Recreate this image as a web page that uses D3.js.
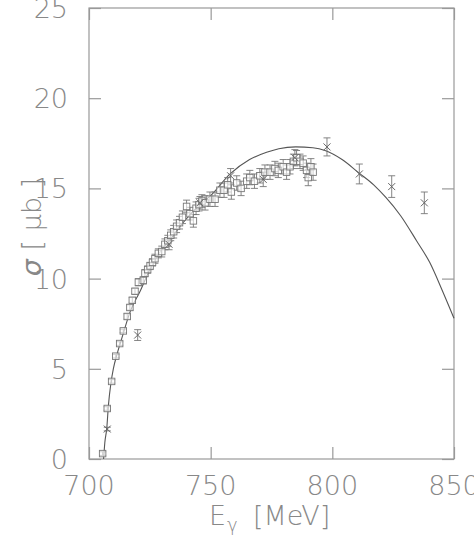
<!DOCTYPE html>
<html>
<head>
<meta charset="utf-8">
<style>
body { margin: 0; background: #fff; }
.lbl { font-family: "DejaVu Sans"; font-weight: 200; fill: #888; }
</style>
</head>
<body>
<div id="chart"></div>
<script src="https://d3js.org/d3.v7.min.js"></script>
<script>
// squares: energy, cross section, error
var sqE = [705.6,707.5,709.3,711.0,712.6,714.1,715.7,716.8,717.8,718.9,720.3,722.3,723.0,724.1,725.1,726.1,727.1,728.5,729.9,731.2,
  732.4,733.6,734.8,736.0,737.2,738.4,740.1,741.5,742.9,744.0,745.2,746.4,747.7,749.7,751.8,753.8,755.5,757.0,758.5,760.7,
  762.5,764.8,766.1,768.0,770.2,772.3,774.4,776.4,777.8,779.8,781.2,782.6,784.0,785.3,786.7,788.0,789.4,790.1,791.2,792.1];
var sqS = [0.3,2.8,4.3,5.7,6.4,7.1,7.9,8.4,8.8,9.3,9.8,9.9,10.3,10.5,10.7,10.9,11.1,11.4,11.5,11.9,
  12.1,12.4,12.6,12.9,13.1,13.4,14.0,13.6,13.2,13.9,14.1,14.3,14.2,14.4,14.4,14.9,14.9,15.2,14.8,15.3,
  15.0,15.4,15.6,15.4,15.7,15.9,15.9,16.1,16.0,16.2,15.9,16.2,16.5,16.7,16.5,16.4,16.0,15.6,16.2,15.9];
var sqErr = [0.1,0.1,0.1,0.1,0.1,0.1,0.15,0.15,0.15,0.15,0.2,0.2,0.2,0.2,0.2,0.2,0.25,0.25,0.3,0.3,
  0.3,0.3,0.35,0.35,0.35,0.35,0.35,0.35,0.35,0.35,0.35,0.35,0.4,0.4,0.4,0.4,0.4,0.4,0.4,0.4,
  0.4,0.4,0.4,0.4,0.4,0.4,0.4,0.4,0.4,0.4,0.4,0.4,0.4,0.4,0.4,0.4,0.4,0.45,0.45,0.45];

// crosses
var crE = [707.5,720.0,732.9,745.6,758.2,771.6,784.6,797.8,811.1,824.4,837.8];
var crS = [1.66,6.87,11.9,14.2,15.7,15.5,16.7,17.3,15.8,15.1,14.2];
var crErr = [0.1,0.3,0.3,0.35,0.4,0.4,0.45,0.5,0.55,0.6,0.6];

// theory curve
var curveE = [706.0,706.5,707.3,708.0,709.0,710.0,711.5,713.5,717,721,725,731,733,738,745.6,750,758,766,773,778,785,792,797,804,811,817,822,828,834.6,840,845,850];
var curveS = [0,0.9,1.7,3.0,4.2,5.0,5.8,6.7,8.2,9.3,10.5,11.8,12.1,13.0,14.1,14.6,15.8,16.6,17.0,17.2,17.3,17.25,17.1,16.6,15.85,15.2,14.5,13.5,12.1,10.9,9.4,7.8];

var xTicks = [700,750,800,850];
var yTicks = [0,5,10,15,20,25];

(function(){
var W = 474, H = 536;
var pL = 89, pR = 454, pT = 8, pB = 459;

var svg = d3.select("#chart").append("svg")
  .attr("width", W).attr("height", H);

var x = d3.scaleLinear().domain([700,850]).range([pL,pR]);
var y = d3.scaleLinear().domain([0,25]).range([pB,pT]);

var axisCol = "#999";

// frame
svg.append("rect")
  .attr("x", pL).attr("y", pT)
  .attr("width", pR-pL).attr("height", pB-pT)
  .attr("fill", "none").attr("stroke", axisCol).attr("stroke-width", 1.2);

// inner ticks
var tl = 12;
function styleAxis(g){ g.select(".domain").remove(); g.selectAll("line").attr("stroke",axisCol).attr("stroke-width",1.2); }
svg.append("g").attr("transform","translate(0,"+pB+")")
  .call(d3.axisTop(x).tickValues(xTicks).tickSize(tl).tickFormat("")).call(styleAxis);
svg.append("g").attr("transform","translate(0,"+pT+")")
  .call(d3.axisBottom(x).tickValues(xTicks).tickSize(tl).tickFormat("")).call(styleAxis);
svg.append("g").attr("transform","translate("+pL+",0)")
  .call(d3.axisRight(y).tickValues(yTicks).tickSize(tl).tickFormat("")).call(styleAxis);
svg.append("g").attr("transform","translate("+pR+",0)")
  .call(d3.axisLeft(y).tickValues(yTicks).tickSize(tl).tickFormat("")).call(styleAxis);

// tick labels
svg.selectAll(".xl").data(xTicks).enter().append("text")
  .attr("class","lbl xl").attr("x", function(d){return x(d);}).attr("y", 495)
  .attr("text-anchor","middle").attr("font-size",27).text(function(d){return d;});
svg.selectAll(".yl").data(yTicks).enter().append("text")
  .attr("class","lbl yl").attr("x", 68).attr("y", function(d){return y(d)+10;})
  .attr("text-anchor","end").attr("font-size",27).text(function(d){return d;});

// axis titles
var xt = svg.append("text").attr("class","lbl").attr("y", 525).attr("font-size",27);
xt.append("tspan").attr("x", 209).text("E");
xt.append("tspan").attr("x", 227).attr("font-size",18).attr("dy",6).text("γ");
xt.append("tspan").attr("x", 253).attr("dy",-6).text("[MeV]");

var yt = svg.append("text").attr("class","lbl")
  .attr("transform","translate(41,227) rotate(-90)")
  .attr("text-anchor","middle").attr("font-size",27);
yt.append("tspan").attr("font-style","italic").text("σ");
yt.append("tspan").text("  [ μb ]");

// theory curve
var curve = curveE.map(function(e,i){ return [e, curveS[i]]; });
svg.append("path").datum(curve)
  .attr("fill","none").attr("stroke","#555").attr("stroke-width",1.1)
  .attr("d", d3.line().x(function(d){return x(d[0]);}).y(function(d){return y(d[1]);}).curve(d3.curveMonotoneX));

var markCol = "#777";
function errBars(E, S, Er, cap) {
  var g = svg.append("g").attr("stroke", markCol).attr("stroke-width", 0.9).attr("fill","none");
  E.forEach(function(e,i){
    var cx = x(e), y1 = y(S[i]+Er[i]), y2 = y(S[i]-Er[i]);
    g.append("line").attr("x1",cx).attr("x2",cx).attr("y1",y1).attr("y2",y2);
    g.append("line").attr("x1",cx-cap).attr("x2",cx+cap).attr("y1",y1).attr("y2",y1);
    g.append("line").attr("x1",cx-cap).attr("x2",cx+cap).attr("y1",y2).attr("y2",y2);
  });
}

errBars(sqE, sqS, sqErr, 3.5);
errBars(crE, crS, crErr, 3.5);

// squares
var s = 6.5;
svg.append("g").selectAll("rect").data(sqE).enter().append("rect")
  .attr("x", function(d){return x(d)-s/2;})
  .attr("y", function(d,i){return y(sqS[i])-s/2;})
  .attr("width", s).attr("height", s)
  .attr("fill","#fff").attr("fill-opacity",0.6).attr("stroke", markCol).attr("stroke-width",0.9);

// crosses
var c = 3.5;
var cg = svg.append("g").attr("stroke","#666").attr("stroke-width",1);
crE.forEach(function(e,i){
  var cx = x(e), cy = y(crS[i]);
  cg.append("line").attr("x1",cx-c).attr("y1",cy-c).attr("x2",cx+c).attr("y2",cy+c);
  cg.append("line").attr("x1",cx-c).attr("y1",cy+c).attr("x2",cx+c).attr("y2",cy-c);
});
})();
</script>
</body>
</html>
